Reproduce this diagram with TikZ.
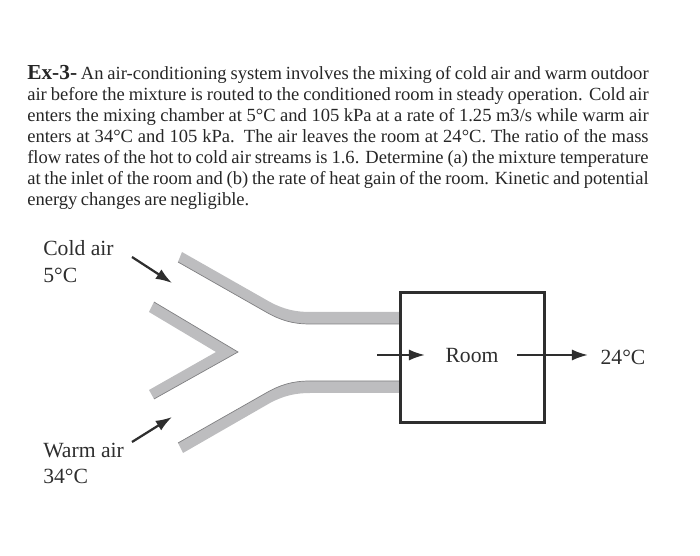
\documentclass[tikz,border=0pt]{standalone}
\usepackage{fontspec}
\setmainfont{Liberation Serif}
\usetikzlibrary{arrows.meta}
\definecolor{ductgray}{HTML}{BDBDBF}
\definecolor{edgegray}{HTML}{808082}
\definecolor{inkgray}{HTML}{2E2E2E}
\tikzset{
        duct/.style={fill=ductgray, draw=none},
        ductedge/.style={draw=edgegray, line width=0.5},
        flow/.style={draw=inkgray, line width=1.6, -{Latex[length=11.5pt,width=8pt]}},
        label/.style={text=inkgray, font=\fontsize{15.4}{18}\selectfont, inner sep=0, anchor=west},
        problem/.style={text=black!85, font=\fontsize{13.2}{15}\selectfont, inner sep=0, anchor=north west, text width=15.53cm, align=justify}
}

\begin{document}
\begin{tikzpicture}[x=0.025cm, y=-0.025cm]
        \useasboundingbox (0, 0) rectangle (700, 556);

        \node[problem] (problem) at (27, 65) {\spaceskip=0.19em plus 0.2em minus 0.05em {\fontsize{15.2}{15}\selectfont\textbf{Ex-3-}} An air-conditioning system involves the mixing of cold air and warm outdoor\linebreak
        air before the mixture is routed to the conditioned room in steady operation. Cold air\linebreak
        enters the mixing chamber at 5°C and 105 kPa at a rate of 1.25 m3/s while warm air\linebreak
        enters at 34°C and 105 kPa. The air leaves the room at 24°C. The ratio of the mass\linebreak
        flow rates of the hot to cold air streams is 1.6. Determine (a) the mixture temperature\linebreak
        at the inlet of the room and (b) the rate of heat gain of the room. Kinetic and potential\linebreak
        energy changes are negligible.};

        \fill[duct] (182, 252) to (270, 302)
        .. controls (283, 309) and (295, 312) .. (310, 312)
        to (400, 312) to (400, 324) to (310, 324)
        .. controls (292, 324) and (280, 320) .. (266, 312)
        to (178, 262) -- cycle;
        \draw[ductedge] (178, 262) to (266, 312)
        .. controls (280, 320) and (292, 324) .. (310, 324)
        to (400, 324);

        \fill[duct] (178, 443) to (266, 393)
        .. controls (280, 385) and (292, 381) .. (310, 381)
        to (400, 381) to (400, 393) to (310, 393)
        .. controls (295, 393) and (283, 396) .. (270, 403)
        to (183, 453) -- cycle;
        \draw[ductedge] (178, 443) to (266, 393)
        .. controls (280, 385) and (292, 381) .. (310, 381)
        to (400, 381);

        \fill[duct] (154, 302) to (238, 352) to (154, 399)
        to (149, 390) to (216, 352) to (149, 312) -- cycle;
        \draw[ductedge] (154, 302) to (238, 352) to (154, 399);

        \node[draw=inkgray, line width=1.5, minimum width=3.6cm, minimum height=3.25cm, inner sep=0] (room) at (472.5, 357.5) {};

        \node[label, anchor=center] (roomlabel) at (472, 356) {Room};
        \node[label, anchor=center] (outtemp) at (623, 357) {24°C};
        \node[label] (coldair) at (43, 248) {Cold air};
        \node[label] (coldtemp) at (43, 275) {5°C};
        \node[label] (warmair) at (43, 450) {Warm air};
        \node[label] (warmtemp) at (43, 476) {34°C};

        \coordinate (coldstart) at (132, 257);
        \coordinate (coldend) at (172, 283);
        \coordinate (warmstart) at (132, 442);
        \coordinate (warmend) at (172, 417);
        \coordinate (instart) at (377, 355);
        \coordinate (inend) at (425, 355);
        \coordinate (outstart) at (517, 355);
        \coordinate (outend) at (588, 355);

        \draw[flow] (coldstart) -- (coldend);
        \draw[flow] (warmstart) -- (warmend);
        \draw[flow] (instart) -- (inend);
        \draw[flow] (outstart) -- (outend);
\end{tikzpicture}
\end{document}
